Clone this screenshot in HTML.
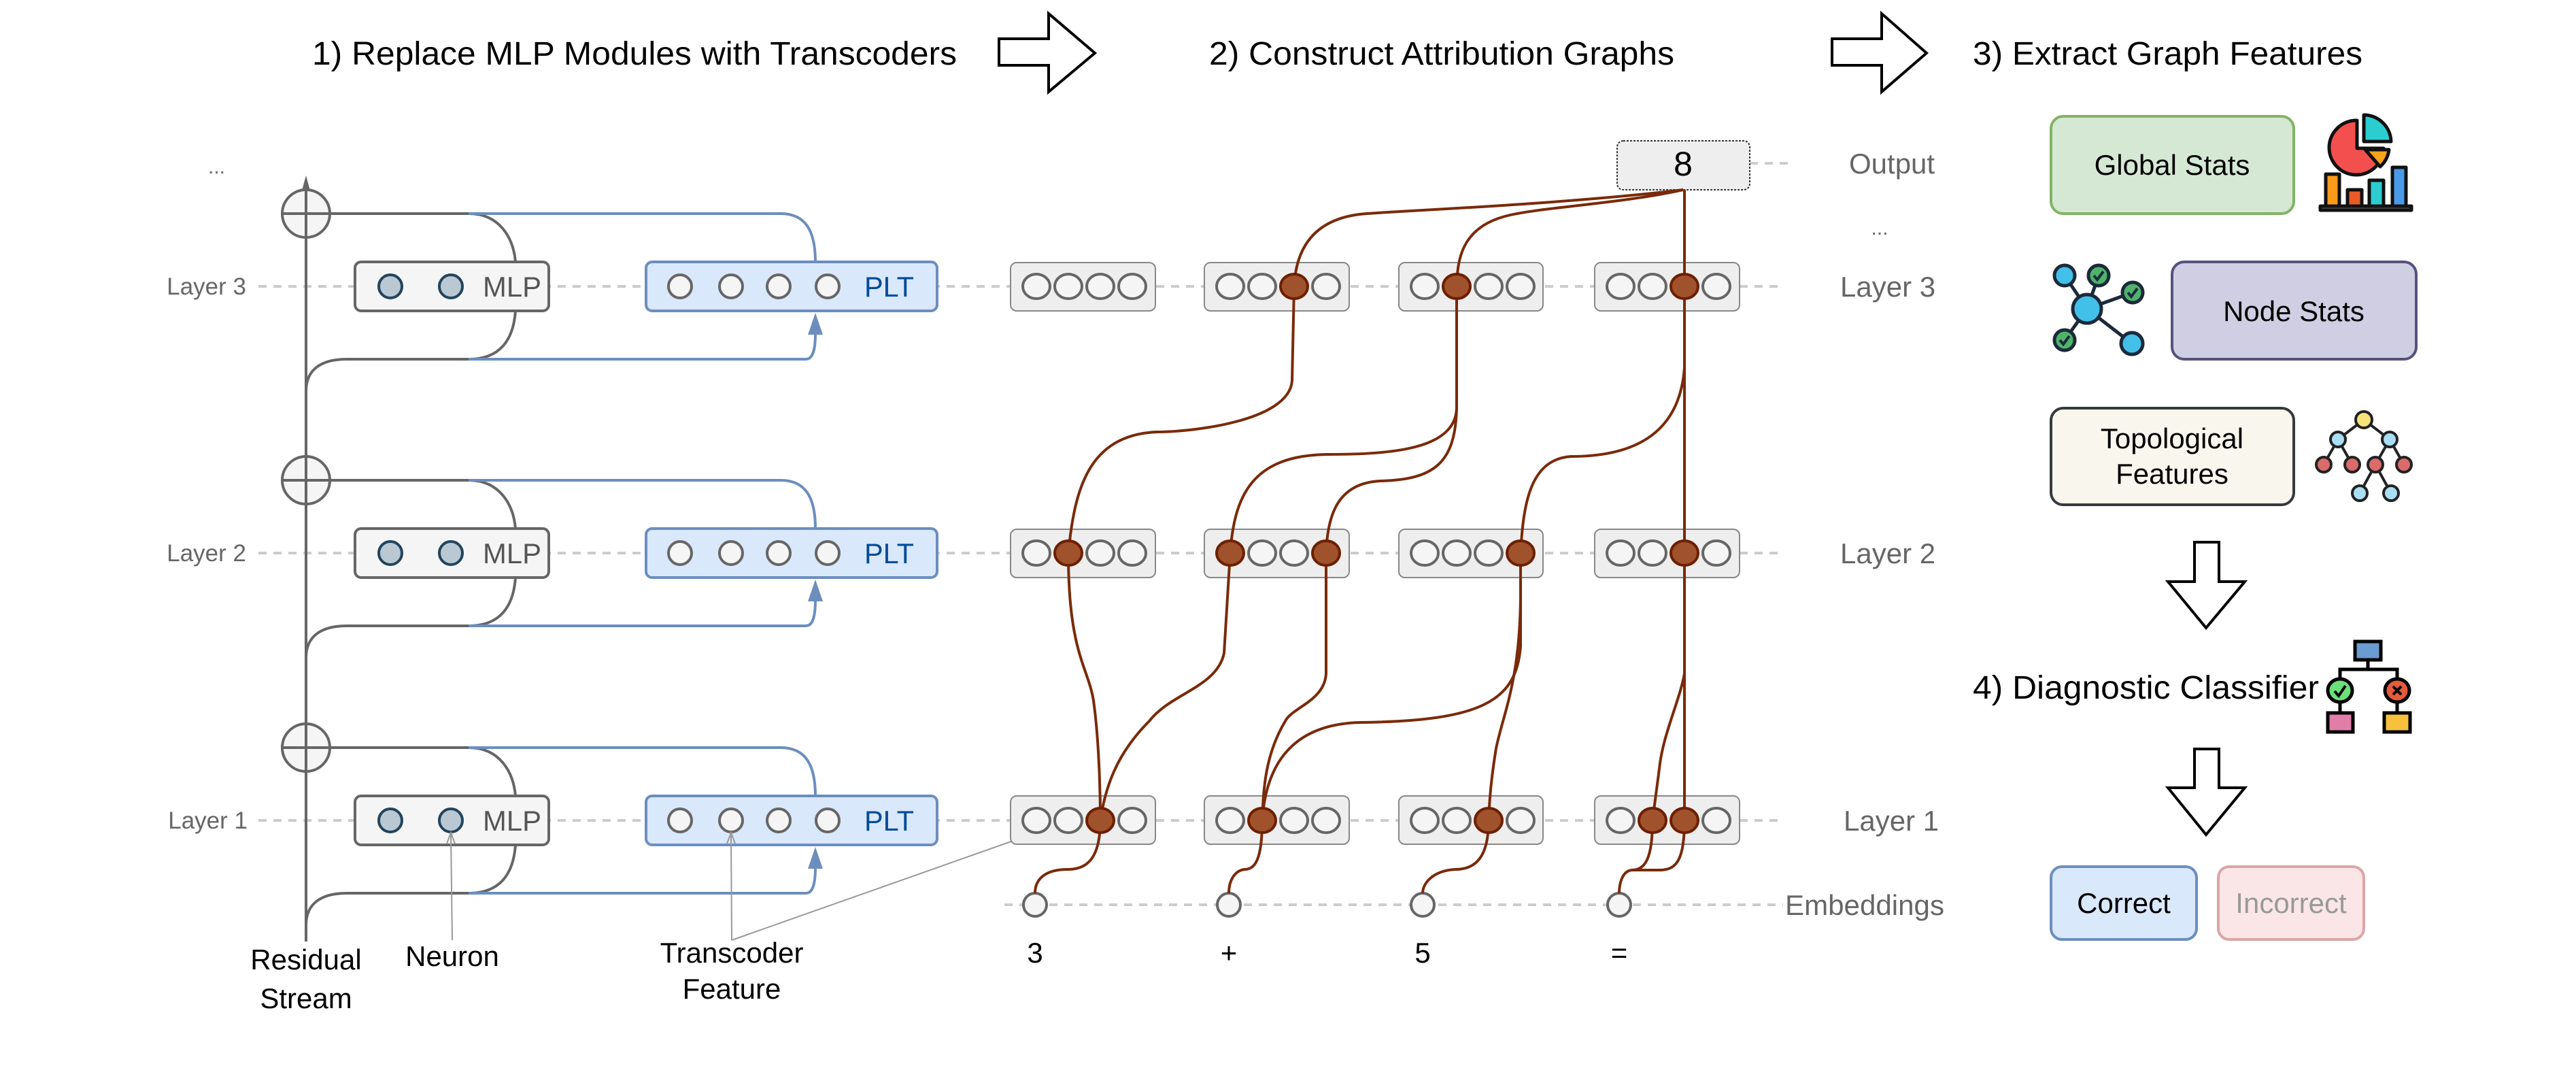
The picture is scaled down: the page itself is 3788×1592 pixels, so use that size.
<!DOCTYPE html>
<html><head><meta charset="utf-8"><style>
html,body{margin:0;padding:0;background:#fff}
svg{display:block}
text{font-family:"Liberation Sans",Arial,sans-serif}
</style></head><body>
<svg width="3788" height="1592" viewBox="0 0 3788 1592" xmlns="http://www.w3.org/2000/svg">
<rect width="3788" height="1592" fill="#fff"/>
<!-- titles -->
<text x="459" y="95" font-size="48" textLength="948" lengthAdjust="spacingAndGlyphs">1) Replace MLP Modules with Transcoders</text>
<text x="1778" y="95" font-size="48" textLength="684" lengthAdjust="spacingAndGlyphs">2) Construct Attribution Graphs</text>
<text x="2901" y="95" font-size="48" textLength="573" lengthAdjust="spacingAndGlyphs">3) Extract Graph Features</text>
<polygon points="1469,57 1542,57 1542,20 1610,78 1542,135 1542,96 1469,96" fill="#fff" stroke="#000" stroke-width="4"/>
<polygon points="2694,57 2767,57 2767,20 2833,78 2767,135 2767,96 2694,96" fill="#fff" stroke="#000" stroke-width="4"/>

<!-- dashed lines -->
<g stroke="#cccccc" stroke-width="4" stroke-dasharray="12,10" fill="none">
<line x1="380" y1="421" x2="2615" y2="421"/>
<line x1="380" y1="813" x2="2615" y2="813"/>
<line x1="380" y1="1206" x2="2615" y2="1206"/>
<line x1="2573" y1="240" x2="2630" y2="240"/>
<line x1="1477" y1="1330" x2="2622" y2="1330"/>
</g>

<text x="306" y="255" font-size="30" fill="#666">...</text>
<g font-size="35" fill="#666" text-anchor="end">
<text x="362" y="433">Layer 3</text>
<text x="362" y="825">Layer 2</text>
<text x="364" y="1218">Layer 1</text>
</g>

<!-- residual stream -->
<line x1="450" y1="1384" x2="450" y2="300" stroke="#666" stroke-width="4"/>
<polygon points="450,258 466,316 450,306 434,316" fill="#666"/>

<!-- layer modules -->
<g id="mods">
<!-- Layer template repeated with L values -->
</g>
<g fill="none" stroke-width="4">
<!-- L=421 -->
<path d="M450,314 L689,314 C735,314 755,350 758,385" stroke="#666"/>
<path d="M689,314 L1148,314 C1185,314 1199,340 1199,385" stroke="#6c8ebf"/>
<path d="M758,457 C755,500 735,528 689,528 L510,528 C470,528 450,545 450,575" stroke="#666"/>
<path d="M689,528 L1185,528 C1195,528 1199,515 1199,490" stroke="#6c8ebf"/>
<!-- L=813 -->
<path d="M450,706 L689,706 C735,706 755,742 758,777" stroke="#666"/>
<path d="M689,706 L1148,706 C1185,706 1199,732 1199,777" stroke="#6c8ebf"/>
<path d="M758,849 C755,892 735,920 689,920 L510,920 C470,920 450,937 450,967" stroke="#666"/>
<path d="M689,920 L1185,920 C1195,920 1199,907 1199,882" stroke="#6c8ebf"/>
<!-- L=1206 -->
<path d="M450,1099 L689,1099 C735,1099 755,1135 758,1170" stroke="#666"/>
<path d="M689,1099 L1148,1099 C1185,1099 1199,1125 1199,1170" stroke="#6c8ebf"/>
<path d="M758,1242 C755,1285 735,1313 689,1313 L510,1313 C470,1313 450,1330 450,1360" stroke="#666"/>
<path d="M689,1313 L1185,1313 C1195,1313 1199,1300 1199,1275" stroke="#6c8ebf"/>
</g>
<g fill="#6c8ebf">
<polygon points="1199,460 1210,492 1188,492"/>
<polygon points="1199,852 1210,884 1188,884"/>
<polygon points="1199,1245 1210,1277 1188,1277"/>
</g>
<g fill="#f5f5f5" stroke="#666" stroke-width="4">
<circle cx="450" cy="314" r="35"/><circle cx="450" cy="706" r="35"/><circle cx="450" cy="1099" r="35"/>
</g>
<g stroke="#666" stroke-width="4">
<line x1="415" y1="314" x2="485" y2="314"/><line x1="450" y1="279" x2="450" y2="349"/>
<line x1="415" y1="706" x2="485" y2="706"/><line x1="450" y1="671" x2="450" y2="741"/>
<line x1="415" y1="1099" x2="485" y2="1099"/><line x1="450" y1="1064" x2="450" y2="1134"/>
</g>
<!-- MLP / PLT boxes -->
<g stroke-width="4">
<rect x="522" y="385" width="285" height="72" rx="9" fill="#f5f5f5" stroke="#666"/>
<rect x="950" y="385" width="428" height="72" rx="9" fill="#dae8fc" stroke="#6c8ebf"/>
<rect x="522" y="777" width="285" height="72" rx="9" fill="#f5f5f5" stroke="#666"/>
<rect x="950" y="777" width="428" height="72" rx="9" fill="#dae8fc" stroke="#6c8ebf"/>
<rect x="522" y="1170" width="285" height="72" rx="9" fill="#f5f5f5" stroke="#666"/>
<rect x="950" y="1170" width="428" height="72" rx="9" fill="#dae8fc" stroke="#6c8ebf"/>
</g>
<g fill="#bac8d3" stroke="#23445d" stroke-width="4">
<circle cx="574" cy="421" r="17"/><circle cx="663" cy="421" r="17"/>
<circle cx="574" cy="813" r="17"/><circle cx="663" cy="813" r="17"/>
<circle cx="574" cy="1206" r="17"/><circle cx="663" cy="1206" r="17"/>
</g>
<g fill="#f5f5f5" stroke="#666" stroke-width="4">
<circle cx="1000" cy="421" r="17"/><circle cx="1075" cy="421" r="17"/><circle cx="1145" cy="421" r="17"/><circle cx="1217" cy="421" r="17"/>
<circle cx="1000" cy="813" r="17"/><circle cx="1075" cy="813" r="17"/><circle cx="1145" cy="813" r="17"/><circle cx="1217" cy="813" r="17"/>
<circle cx="1000" cy="1206" r="17"/><circle cx="1075" cy="1206" r="17"/><circle cx="1145" cy="1206" r="17"/><circle cx="1217" cy="1206" r="17"/>
</g>
<g font-size="42" fill="#555">
<text x="710" y="436" textLength="86" lengthAdjust="spacingAndGlyphs">MLP</text>
<text x="710" y="828" textLength="86" lengthAdjust="spacingAndGlyphs">MLP</text>
<text x="710" y="1221" textLength="86" lengthAdjust="spacingAndGlyphs">MLP</text>
</g>
<g font-size="42" fill="#004c99">
<text x="1271" y="436" textLength="73" lengthAdjust="spacingAndGlyphs">PLT</text>
<text x="1271" y="828" textLength="73" lengthAdjust="spacingAndGlyphs">PLT</text>
<text x="1271" y="1221" textLength="73" lengthAdjust="spacingAndGlyphs">PLT</text>
</g>

<!-- pointers -->
<g stroke="#999" stroke-width="2" fill="none">
<line x1="665" y1="1382" x2="663" y2="1226"/>
<line x1="1076" y1="1382" x2="1075" y2="1226"/>
<line x1="1076" y1="1382" x2="1518" y2="1226"/>
<polyline points="657,1240 663,1224 669,1240"/>
<polyline points="1069,1240 1075,1224 1081,1240"/>
<polyline points="1500,1226 1519,1225 1508,1240"/>
</g>
<g font-size="42" fill="#000" text-anchor="middle">
<text x="450" y="1425">Residual</text>
<text x="450" y="1482">Stream</text>
<text x="665" y="1420">Neuron</text>
<text x="1076" y="1415">Transcoder</text>
<text x="1076" y="1468">Feature</text>
</g>

<!-- graph boxes -->
<g fill="#eeeeee" stroke="#888" stroke-width="2">
<rect x="1486" y="386" width="213" height="71" rx="9"/><rect x="1771" y="386" width="213" height="71" rx="9"/><rect x="2057" y="386" width="212" height="71" rx="9"/><rect x="2345" y="386" width="213" height="71" rx="9"/>
<rect x="1486" y="778" width="213" height="71" rx="9"/><rect x="1771" y="778" width="213" height="71" rx="9"/><rect x="2057" y="778" width="212" height="71" rx="9"/><rect x="2345" y="778" width="213" height="71" rx="9"/>
<rect x="1486" y="1170" width="213" height="71" rx="9"/><rect x="1771" y="1170" width="213" height="71" rx="9"/><rect x="2057" y="1170" width="212" height="71" rx="9"/><rect x="2345" y="1170" width="213" height="71" rx="9"/>
</g>
<rect x="2378" y="207" width="195" height="72" rx="9" fill="#eeeeee" stroke="#333" stroke-width="2" stroke-dasharray="3,2"/>
<text x="2475" y="258" font-size="50" text-anchor="middle">8</text>

<!-- inactive circles -->
<g fill="#f5f5f5" stroke="#666" stroke-width="4">
<!-- L3 -->
<ellipse cx="1524" cy="421" rx="20" ry="18"/><ellipse cx="1571" cy="421" rx="20" ry="18"/><ellipse cx="1618" cy="421" rx="20" ry="18"/><ellipse cx="1665" cy="421" rx="20" ry="18"/>
<ellipse cx="1809" cy="421" rx="20" ry="18"/><ellipse cx="1856" cy="421" rx="20" ry="18"/><ellipse cx="1950" cy="421" rx="20" ry="18"/>
<ellipse cx="2095" cy="421" rx="20" ry="18"/><ellipse cx="2189" cy="421" rx="20" ry="18"/><ellipse cx="2236" cy="421" rx="20" ry="18"/>
<ellipse cx="2383" cy="421" rx="20" ry="18"/><ellipse cx="2430" cy="421" rx="20" ry="18"/><ellipse cx="2524" cy="421" rx="20" ry="18"/>
<!-- L2 -->
<ellipse cx="1524" cy="813" rx="20" ry="18"/><ellipse cx="1618" cy="813" rx="20" ry="18"/><ellipse cx="1665" cy="813" rx="20" ry="18"/>
<ellipse cx="1856" cy="813" rx="20" ry="18"/><ellipse cx="1903" cy="813" rx="20" ry="18"/>
<ellipse cx="2095" cy="813" rx="20" ry="18"/><ellipse cx="2142" cy="813" rx="20" ry="18"/><ellipse cx="2189" cy="813" rx="20" ry="18"/>
<ellipse cx="2383" cy="813" rx="20" ry="18"/><ellipse cx="2430" cy="813" rx="20" ry="18"/><ellipse cx="2524" cy="813" rx="20" ry="18"/>
<!-- L1 -->
<ellipse cx="1524" cy="1206" rx="20" ry="18"/><ellipse cx="1571" cy="1206" rx="20" ry="18"/><ellipse cx="1665" cy="1206" rx="20" ry="18"/>
<ellipse cx="1809" cy="1206" rx="20" ry="18"/><ellipse cx="1903" cy="1206" rx="20" ry="18"/><ellipse cx="1950" cy="1206" rx="20" ry="18"/>
<ellipse cx="2095" cy="1206" rx="20" ry="18"/><ellipse cx="2142" cy="1206" rx="20" ry="18"/><ellipse cx="2236" cy="1206" rx="20" ry="18"/>
<ellipse cx="2383" cy="1206" rx="20" ry="18"/><ellipse cx="2524" cy="1206" rx="20" ry="18"/>
<!-- embeddings -->
<circle cx="1522" cy="1330" r="17"/><circle cx="1807" cy="1330" r="17"/><circle cx="2092" cy="1330" r="17"/><circle cx="2381" cy="1330" r="17"/>
</g>

<!-- edges -->
<g fill="none" stroke="#7a2a0a" stroke-width="4">
<path d="M2475,279 C2300,300 2060,310 2010,314 C1920,320 1905,380 1903,421"/>
<path d="M2475,279 C2380,300 2260,305 2213,318 C2150,335 2143,380 2142,421"/>
<path d="M2477,279 L2477,1206"/>
<path d="M1903,421 L1900,560 C1895,620 1750,635 1700,635 C1600,640 1580,720 1571,813"/>
<path d="M2142,421 L2142,600 C2140,660 2050,668 1950,668 C1840,670 1815,730 1809,813"/>
<path d="M2142,600 C2140,680 2110,705 2030,707 C1965,710 1952,760 1950,813"/>
<path d="M2477,540 C2470,640 2400,671 2310,671 C2250,675 2240,740 2236,813"/>
<path d="M1571,813 C1571,960 1600,980 1608,1030 C1615,1080 1618,1150 1618,1206"/>
<path d="M1809,813 L1800,960 C1790,1010 1720,1020 1690,1060 C1640,1110 1625,1160 1618,1206"/>
<path d="M1950,813 L1950,990 C1948,1030 1900,1040 1890,1060 C1860,1110 1858,1160 1856,1206"/>
<path d="M2236,813 L2236,950 C2230,1030 2180,1060 2000,1062 C1880,1065 1860,1150 1856,1206"/>
<path d="M2236,870 C2236,1000 2210,1050 2200,1100 C2192,1150 2190,1180 2189,1206"/>
<path d="M2477,990 C2470,1030 2445,1080 2440,1130 L2430,1206"/>
<path d="M1618,1206 C1618,1260 1600,1278 1570,1278 C1540,1278 1522,1290 1522,1313"/>
<path d="M1856,1206 C1856,1265 1845,1278 1830,1278 C1815,1280 1807,1295 1807,1313"/>
<path d="M2189,1206 C2189,1260 2170,1278 2140,1278 C2105,1280 2092,1300 2092,1313"/>
<path d="M2430,1206 C2430,1260 2420,1279 2400,1279 C2385,1280 2381,1300 2381,1313"/>
<path d="M2477,1206 C2477,1265 2465,1279 2440,1279 L2400,1279"/>
</g>

<!-- active circles -->
<g fill="#a0522d" stroke="#6d1f00" stroke-width="4">
<ellipse cx="1903" cy="421" rx="20" ry="18"/><ellipse cx="2142" cy="421" rx="20" ry="18"/><ellipse cx="2477" cy="421" rx="20" ry="18"/>
<ellipse cx="1571" cy="813" rx="20" ry="18"/><ellipse cx="1809" cy="813" rx="20" ry="18"/><ellipse cx="1950" cy="813" rx="20" ry="18"/><ellipse cx="2236" cy="813" rx="20" ry="18"/><ellipse cx="2477" cy="813" rx="20" ry="18"/>
<ellipse cx="1618" cy="1206" rx="20" ry="18"/><ellipse cx="1856" cy="1206" rx="20" ry="18"/><ellipse cx="2189" cy="1206" rx="20" ry="18"/><ellipse cx="2430" cy="1206" rx="20" ry="18"/><ellipse cx="2477" cy="1206" rx="20" ry="18"/>
</g>

<g font-size="42" fill="#666">
<text x="2719" y="255">Output</text>
<text x="2764" y="345" font-size="30" text-anchor="middle">...</text>
<text x="2706" y="436">Layer 3</text>
<text x="2706" y="828">Layer 2</text>
<text x="2711" y="1221">Layer 1</text>
<text x="2625" y="1345" textLength="234" lengthAdjust="spacingAndGlyphs">Embeddings</text>
</g>
<g font-size="42" fill="#000" text-anchor="middle">
<text x="1522" y="1415">3</text><text x="1807" y="1415">+</text><text x="2092" y="1415">5</text><text x="2381" y="1415">=</text>
</g>

<!-- right column -->
<rect x="3016" y="171" width="357" height="143" rx="18" fill="#d5e8d4" stroke="#82b366" stroke-width="4"/>
<text x="3194" y="257" font-size="42" text-anchor="middle">Global Stats</text>
<rect x="3194" y="385" width="359" height="143" rx="18" fill="#d0cee2" stroke="#56517e" stroke-width="4"/>
<text x="3373" y="472" font-size="42" text-anchor="middle">Node Stats</text>
<rect x="3016" y="600" width="357" height="142" rx="18" fill="#f9f7ed" stroke="#36393d" stroke-width="4"/>
<text x="3194" y="659" font-size="42" text-anchor="middle">Topological</text>
<text x="3194" y="711" font-size="42" text-anchor="middle">Features</text>

<!-- chart icon -->
<g stroke="#111" stroke-width="5" stroke-linejoin="round">
<path d="M3466,177 A40,40 0 1 0 3505,218 L3466,218 Z" fill="#f44f4f"/>
<path d="M3476,169 A40,40 0 0 1 3516,208 L3476,208 Z" fill="#2ccdd0"/>
<path d="M3478,220 L3513,220 A40,40 0 0 1 3500,245 Z" fill="#f9a21b"/>
<rect x="3420" y="256" width="20" height="47" fill="#f99a1a"/>
<rect x="3452" y="279" width="21" height="24" fill="#e85a28"/>
<rect x="3484" y="265" width="21" height="38" fill="#2ccdd0"/>
<rect x="3518" y="246" width="20" height="57" fill="#4a9ae8"/>
<rect x="3412" y="303" width="134" height="6" fill="#666"/>
</g>
<!-- network icon -->
<g stroke="#1b2a3a" stroke-width="5">
<line x1="3069" y1="454" x2="3036" y2="405"/><line x1="3069" y1="454" x2="3086" y2="405"/><line x1="3069" y1="454" x2="3136" y2="430"/><line x1="3069" y1="454" x2="3036" y2="500"/><line x1="3069" y1="454" x2="3135" y2="505"/>
<circle cx="3069" cy="454" r="21" fill="#43c0ea"/>
<circle cx="3036" cy="405" r="15" fill="#43c0ea"/>
<circle cx="3086" cy="405" r="15" fill="#4fb36b"/>
<circle cx="3136" cy="430" r="15" fill="#4fb36b"/>
<circle cx="3036" cy="500" r="15" fill="#4fb36b"/>
<circle cx="3135" cy="505" r="16" fill="#43c0ea"/>
</g>
<g stroke="#1b2a3a" stroke-width="4" fill="none">
<polyline points="3079,405 3084,411 3093,399"/><polyline points="3129,430 3134,436 3143,424"/><polyline points="3029,500 3034,506 3043,494"/>
</g>
<!-- tree icon -->
<g stroke="#222" stroke-width="4">
<line x1="3476" y1="617" x2="3438" y2="646"/><line x1="3476" y1="617" x2="3514" y2="646"/>
<line x1="3438" y1="646" x2="3417" y2="683"/><line x1="3438" y1="646" x2="3459" y2="683"/>
<line x1="3514" y1="646" x2="3493" y2="683"/><line x1="3514" y1="646" x2="3535" y2="683"/>
<line x1="3493" y1="683" x2="3470" y2="725"/><line x1="3493" y1="683" x2="3516" y2="725"/>
<circle cx="3476" cy="617" r="12" fill="#f7e27a"/>
<circle cx="3438" cy="646" r="11" fill="#a9def5"/><circle cx="3514" cy="646" r="11" fill="#a9def5"/>
<circle cx="3417" cy="683" r="11" fill="#d96b6b"/><circle cx="3459" cy="683" r="11" fill="#d96b6b"/><circle cx="3493" cy="683" r="11" fill="#d96b6b"/><circle cx="3535" cy="683" r="11" fill="#d96b6b"/>
<circle cx="3470" cy="725" r="11" fill="#a9def5"/><circle cx="3516" cy="725" r="11" fill="#a9def5"/>
</g>

<!-- down arrows -->
<polygon points="3227,797 3263,797 3263,855 3301,855 3244,923 3188,855 3227,855" fill="#fff" stroke="#000" stroke-width="4"/>
<polygon points="3227,1101 3263,1101 3263,1158 3301,1158 3244,1227 3188,1158 3227,1158" fill="#fff" stroke="#000" stroke-width="4"/>
<text x="2901" y="1027" font-size="48" textLength="509" lengthAdjust="spacingAndGlyphs">4) Diagnostic Classifier</text>
<!-- classifier icon -->
<g stroke="#000" stroke-width="5">
<polyline points="3441,1015 3441,984 3525,984 3525,1015" fill="none"/>
<line x1="3482" y1="970" x2="3482" y2="984"/>
<line x1="3441" y1="1030" x2="3441" y2="1048"/><line x1="3525" y1="1030" x2="3525" y2="1048"/>
<rect x="3463" y="943" width="38" height="27" fill="#6a9bd1"/>
<ellipse cx="3441" cy="1015" rx="18" ry="17" fill="#6be07a"/>
<ellipse cx="3525" cy="1015" rx="18" ry="17" fill="#e45b3c"/>
<rect x="3423" y="1048" width="37" height="28" fill="#e07ea8"/>
<rect x="3506" y="1048" width="38" height="28" fill="#f7c13e"/>
</g>
<polyline points="3433,1016 3439,1023 3449,1008" fill="none" stroke="#000" stroke-width="4"/>
<g stroke="#000" stroke-width="4"><line x1="3519" y1="1009" x2="3531" y2="1021"/><line x1="3531" y1="1009" x2="3519" y2="1021"/></g>

<rect x="3016" y="1274" width="214" height="107" rx="16" fill="#dae8fc" stroke="#6c8ebf" stroke-width="4"/>
<text x="3123" y="1342" font-size="42" text-anchor="middle">Correct</text>
<rect x="3262" y="1274" width="214" height="107" rx="16" fill="#fae6e6" stroke="#dca5a5" stroke-width="4"/>
<text x="3369" y="1342" font-size="42" text-anchor="middle" fill="#999">Incorrect</text>
</svg>
</body></html>
